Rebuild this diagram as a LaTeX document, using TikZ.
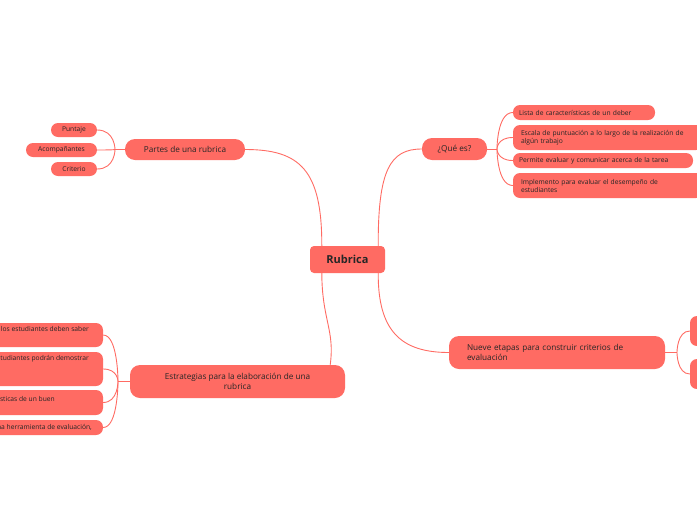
\documentclass[tikz,border=0pt]{standalone}
\usepackage{fontspec}
\setmainfont{Open Sans}
\definecolor{rc}{HTML}{FF6B63}
\begin{document}
\begin{tikzpicture}[x=1pt,y=-1pt,
  box/.style={fill=rc,draw=none,rounded corners=7pt,inner sep=0pt,font=\fontsize{6.7}{8}\selectfont,text=black!85},
  cut/.style={font=\fontsize{6.7}{8}\selectfont,text=black!85,anchor=east,inner sep=0},
  mid/.style={box,rounded corners=10pt,font=\fontsize{8.2}{10}\selectfont},
  con/.style={draw=rc,line width=0.9pt}]
\useasboundingbox (0,0) rectangle (697,520);
\clip (0,0) rectangle (697,520);
\node[box,rounded corners=4pt,minimum width=75,minimum height=27,font=\fontsize{11}{13}\selectfont\bfseries] (r) at (347.5,259.5) {Rubrica};
% right top
\node[mid,minimum width=65,minimum height=22] (q) at (454.5,149) {¿Qué es?};
\node[box,minimum width=142,minimum height=15,align=left,text width=130] (q1) at (584,112.5) {Lista de características de un deber};
\node[box,minimum width=190,minimum height=25,align=left,text width=178] (q2) at (608,137.5) {\hspace*{2pt}Escala de puntuación a lo largo de la realización de\\\hspace*{2pt}algún trabajo};
\node[box,minimum width=180,minimum height=15,align=left,text width=168] (q3) at (603,160.5) {Permite evaluar y comunicar acerca de la tarea};
\node[box,minimum width=190,minimum height=25,align=left,text width=178] (q4) at (608,185.5) {\hspace*{2pt}Implemento para evaluar el desempeño de\\\hspace*{2pt}estudiantes};
\coordinate (qj) at (497,149);
\draw[con] (q.east) -- (qj);
\foreach \c in {q1,q2,q3,q4}{\draw[con] (qj) .. controls (497,149) and (497,0|-\c.west) .. (\c.west);}
\draw[con] (r.north east)++(-7,0) coordinate (ra) .. controls (378,170) and (390,149) .. (q.west);
% left top
\node[mid,minimum width=120,minimum height=21] (p) at (185,149.5) {Partes de una rubrica};
\node[box,minimum width=46,minimum height=14] (p1) at (74,130) {Puntaje};
\node[box,minimum width=71,minimum height=14] (p2) at (61.5,150) {Acompañantes};
\node[box,minimum width=46,minimum height=14] (p3) at (74,169) {Criterio};
\coordinate (pj) at (115,149.5);
\draw[con] (p.west) -- (pj);
\foreach \c in {p1,p2,p3}{\draw[con] (pj) .. controls (115,149.5) and (115,0|-\c.east) .. (\c.east);}
\draw[con] (r.north west)++(12,0) coordinate (rb) .. controls (322,170) and (300,149.5) .. (p.east);
% left bottom
\node[mid,minimum width=215,minimum height=33,align=center] (e) at (237.5,381.5) {Estrategias para la elaboración de una\\rubrica};
\node[box,minimum width=160,minimum height=24] (e1) at (23,335) {};
\node[box,minimum width=160,minimum height=34] (e2) at (23,369) {};
\node[box,minimum width=160,minimum height=25] (e3) at (23,402.5) {};
\node[box,minimum width=160,minimum height=15] (e4) at (23,427.5) {};
\node[cut] (t1) at (89,330) {Lo que los estudiantes deben saber};
\node[cut] (t2) at (89,359) {Lo que los estudiantes podrán demostrar};
\node[cut] (t3) at (55,399) {Características de un buen};
\node[cut] (t4) at (92,427) {Es una herramienta de evaluación,};
\coordinate (ej) at (118,381.5);
\draw[con] (e.west) -- (ej);
\foreach \c in {e1,e2,e3,e4}{\draw[con] (ej) .. controls (118,381.5) and (118,0|-\c.east) .. (\c.east);}
\draw[con] (r.south west)++(12,0) coordinate (rc1) .. controls (322,320) and (335,330) .. ([xshift=-15]e.north east);
% right bottom
\node[mid,minimum width=216,minimum height=33,align=left,text width=180] (n) at (557,352.5) {Nueve etapas para construir criterios de\\evaluación};
\node[box,minimum width=60,minimum height=30] (n1) at (720,331) {};
\node[box,minimum width=60,minimum height=30] (n2) at (720,374) {};
\coordinate (nj) at (677,352.5);
\draw[con] (n.east) -- (nj);
\foreach \c in {n1,n2}{\draw[con] (nj) .. controls (677,352.5) and (677,0|-\c.west) .. (\c.west);}
\draw[con] (r.south east)++(-7,0) coordinate (rd) .. controls (378,330) and (400,352.5) .. (n.west);
\end{tikzpicture}
\end{document}
